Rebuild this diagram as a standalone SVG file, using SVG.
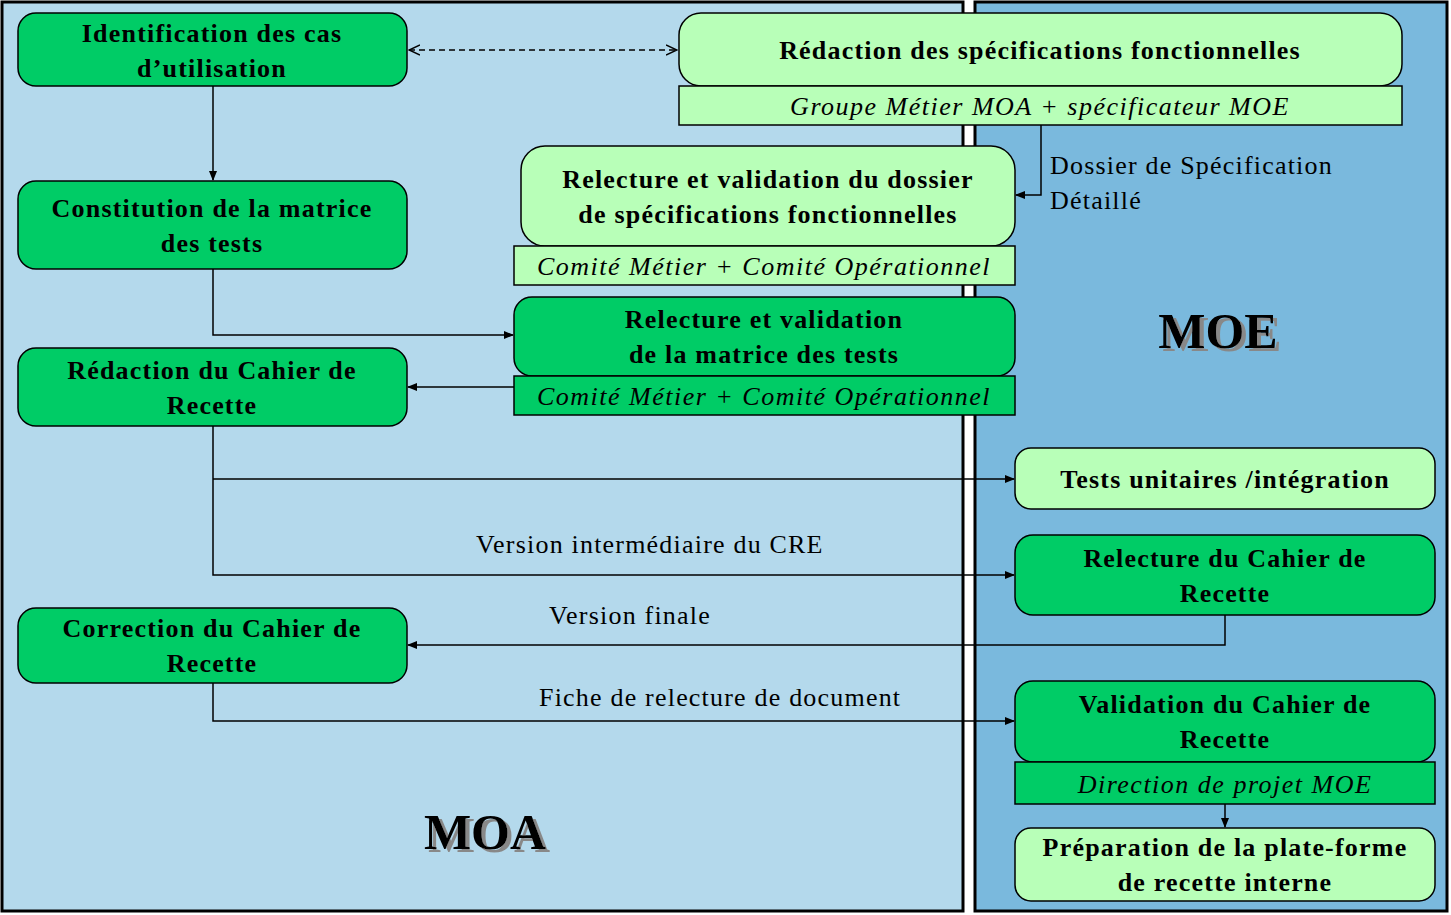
<svg xmlns="http://www.w3.org/2000/svg" width="1451" height="915" viewBox="0 0 1451 915">
<style>
.t{font-family:"Liberation Serif",serif;font-weight:bold;font-size:26px;letter-spacing:1.2px;text-anchor:middle}
.i{font-family:"Liberation Serif",serif;font-style:italic;font-size:26px;letter-spacing:1.5px;text-anchor:middle}
.l{font-family:"Liberation Serif",serif;font-size:26px;letter-spacing:1.2px}
.dk{fill:#00cc66;stroke:#000;stroke-width:1.5}
.lt{fill:#b8ffb8;stroke:#000;stroke-width:1.5}
.c{fill:none;stroke:#000;stroke-width:1.5}
.big{font-family:"Liberation Serif",serif;font-weight:bold;font-size:50px;text-anchor:middle;filter:url(#sh)}
</style>
<defs>
<filter id="sh" x="-20%" y="-20%" width="140%" height="140%"><feDropShadow dx="4" dy="3" stdDeviation="0.5" flood-color="#888" flood-opacity="1"/></filter>
<marker id="a" markerWidth="10" markerHeight="10" refX="9" refY="5" orient="auto" markerUnits="userSpaceOnUse"><path d="M0,1 L10,5 L0,9 z"/></marker>
<marker id="o" markerWidth="12" markerHeight="12" refX="11" refY="6" orient="auto-start-reverse" markerUnits="userSpaceOnUse"><path d="M0,1 L11,6 L0,11" fill="none" stroke="#000" stroke-width="1.5"/></marker>
</defs>
<rect width="1451" height="915" fill="#fff"/>
<rect x="2" y="2" width="961" height="909" fill="#b4d9ec" stroke="#000" stroke-width="3"/>
<rect x="975" y="2" width="472" height="909" fill="#7ab9dd" stroke="#000" stroke-width="3"/>
<text class="big" x="485" y="849">MOA</text>
<text class="big" x="1218" y="348">MOE</text>
<g id="connectors">
<line class="c" x1="409" y1="50" x2="677" y2="50" stroke-dasharray="6,4" marker-start="url(#o)" marker-end="url(#o)"/>
<path class="c" d="M213,86 V180" marker-end="url(#a)"/>
<path class="c" d="M213,269 V335 H513" marker-end="url(#a)"/>
<path class="c" d="M514,387 H408" marker-end="url(#a)"/>
<path class="c" d="M213,426 V575 H1014" marker-end="url(#a)"/>
<path class="c" d="M213,479 H1014" marker-end="url(#a)"/>
<path class="c" d="M1225,615 V645 H408" marker-end="url(#a)"/>
<path class="c" d="M213,683 V721 H1014" marker-end="url(#a)"/>
<path class="c" d="M1225,804 V827" marker-end="url(#a)"/>
<path class="c" d="M1041,125 V195 H1016" marker-end="url(#a)"/>
<text class="l" x="1050" y="174">Dossier de Spécification</text>
<text class="l" x="1050" y="209">Détaillé</text>
<text class="l" x="476" y="553">Version intermédiaire du CRE</text>
<text class="l" x="549" y="624">Version finale</text>
<text class="l" x="539" y="706">Fiche de relecture de document</text>
</g>
<g id="n1"><rect class="dk" x="18" y="13" width="389" height="73" rx="18"/><text class="t" x="212" y="42">Identification des cas</text><text class="t" x="212" y="77">d’utilisation</text></g>
<g id="n2"><rect class="lt" x="679" y="13" width="723" height="73" rx="22"/><text class="t" x="1040" y="59">Rédaction des spécifications fonctionnelles</text>
<rect class="lt" x="679" y="86" width="723" height="39"/><text class="i" x="1040" y="115">Groupe Métier MOA + spécificateur MOE</text></g>
<g id="n3"><rect class="lt" x="521" y="146" width="494" height="100" rx="24"/><text class="t" x="768" y="188">Relecture et validation du dossier</text><text class="t" x="768" y="223">de spécifications fonctionnelles</text>
<rect class="lt" x="514" y="246" width="501" height="39"/><text class="i" x="764" y="275">Comité Métier  + Comité Opérationnel</text></g>
<g id="n4"><rect class="dk" x="18" y="181" width="389" height="88" rx="18"/><text class="t" x="212" y="217">Constitution de la matrice</text><text class="t" x="212" y="252">des tests</text></g>
<g id="n5"><rect class="dk" x="514" y="297" width="501" height="79" rx="18"/><text class="t" x="764" y="328">Relecture et validation</text><text class="t" x="764" y="363">de la matrice des tests</text>
<rect class="dk" x="514" y="376" width="501" height="39"/><text class="i" x="764" y="405">Comité Métier  + Comité Opérationnel</text></g>
<g id="n6"><rect class="dk" x="18" y="348" width="389" height="78" rx="18"/><text class="t" x="212" y="379">Rédaction du Cahier de</text><text class="t" x="212" y="414">Recette</text></g>
<g id="n7"><rect class="lt" x="1015" y="448" width="420" height="61" rx="16"/><text class="t" x="1225" y="488">Tests unitaires /intégration</text></g>
<g id="n8"><rect class="dk" x="1015" y="535" width="420" height="80" rx="18"/><text class="t" x="1225" y="567">Relecture du Cahier de</text><text class="t" x="1225" y="602">Recette</text></g>
<g id="n9"><rect class="dk" x="18" y="608" width="389" height="75" rx="18"/><text class="t" x="212" y="637">Correction du Cahier de</text><text class="t" x="212" y="672">Recette</text></g>
<g id="n10"><rect class="dk" x="1015" y="681" width="420" height="81" rx="18"/><text class="t" x="1225" y="713">Validation du Cahier de</text><text class="t" x="1225" y="748">Recette</text>
<rect class="dk" x="1015" y="762" width="420" height="42"/><text class="i" x="1225" y="793">Direction de projet MOE</text></g>
<g id="n11"><rect class="lt" x="1015" y="828" width="420" height="73" rx="16"/><text class="t" x="1225" y="856">Préparation de la plate-forme</text><text class="t" x="1225" y="891">de recette interne</text></g>
</svg>
